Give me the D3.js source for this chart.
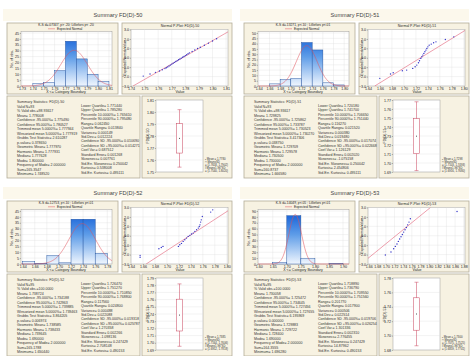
<!DOCTYPE html>
<html><head><meta charset="utf-8">
<script src="https://cdn.jsdelivr.net/npm/d3@7"></script>
<style>body{margin:0;background:#fff}svg{display:block}text{font-family:"Liberation Sans",Arial,sans-serif}</style>
</head><body>
<svg id="c" width="474" height="356"></svg>
<script>
// ---------------- DATA ----------------
const panelNames = ["FD(D)-50","FD(D)-51","FD(D)-52","FD(D)-53"];
const ksLabels = ["K-S d=.07347, p> .20; Lilliefors p< .20","K-S d=.13271, p<.10 ; Lilliefors p<.01","K-S d=.12753, p<.10 ; Lilliefors p<.01","K-S d=.14049, p<.05 ; Lilliefors p<.01"];

// histograms: bin edges, counts, tick labels, axis extents
const hist50Edges = [1.74,1.75,1.76,1.77,1.78,1.79,1.80,1.81];
const hist50Counts = [2,3,13,38,23,10,4];
const hist50XTicks = [1.73,1.74,1.75,1.76,1.77,1.78,1.79,1.80,1.81];
const hist50XDomain = [1.7291,1.8128];
const hist50YTicks = [0,5,10,15,20,25,30,35,40,45];

const hist51Edges = [1.66,1.68,1.70,1.72,1.74,1.76,1.78,1.80];
const hist51Counts = [2,6,7,41,34,3,1];
const hist51XTicks = [1.64,1.66,1.68,1.70,1.72,1.74,1.76,1.78,1.80];
const hist51XDomain = [1.6385,1.809];
const hist51YTicks = [0,5,10,15,20,25,30,35,40,45,50];

const hist52Edges = [1.64,1.66,1.68,1.70,1.72,1.74,1.76,1.78];
const hist52Counts = [2,0.4,7,1,38,38,9];
const hist52XTicks = [1.64,1.66,1.68,1.70,1.72,1.74,1.76,1.78];
const hist52XDomain = [1.6372,1.7878];
const hist52YTicks = [0,5,10,15,20,25,30,35,40,45];

const hist53Edges = [1.65,1.70,1.75,1.80,1.85,1.90];
const hist53Counts = [3,82,9,0,1];
const hist53XTicks = [1.60,1.65,1.70,1.75,1.80,1.85,1.90];
const hist53XDomain = [1.5975,1.9213];
const hist53YTicks = [0,10,20,30,40,50,60,70,80,90];

// sample parameters (N, mean, sd) used for the expected-normal curve and the box plot
const sampleN = [93,93,95,95];
const sampleMean = [1.7780,1.7298,1.7385,1.7300];
const sampleSD = [0.01222,0.0195,0.0221,0.0225];

// normal P-plots: [value, expected normal]
const pplot50 = [[1.749,-1.95],[1.754,-1.72],[1.758,-1.55],[1.761,-1.4],[1.763,-1.28],[1.765,-1.15],[1.766,-1.06],[1.767,-0.97],[1.768,-0.88],[1.769,-0.78],[1.770,-0.68],[1.771,-0.58],[1.772,-0.49],[1.773,-0.40],[1.774,-0.31],[1.775,-0.22],[1.776,-0.13],[1.777,-0.04],[1.778,0.05],[1.779,0.14],[1.780,0.23],[1.781,0.32],[1.782,0.42],[1.783,0.52],[1.785,0.67],[1.787,0.82],[1.789,0.98],[1.791,1.12],[1.794,1.33],[1.797,1.55],[1.800,1.78],[1.803,2.02]];
const pplot51 = [[1.6597,-2.19],[1.6776,-1.73],[1.6821,-1.59],[1.6973,-1.38],[1.7046,-1.31],[1.7147,-1.13],[1.7187,-0.95],[1.7215,-0.78],[1.7243,-0.53],[1.7260,-0.32],[1.7282,-0.07],[1.7299,0.11],[1.7316,0.28],[1.7333,0.46],[1.7350,0.64],[1.7367,0.81],[1.7383,0.99],[1.7400,1.16],[1.7422,1.34],[1.7456,1.45],[1.7496,1.59],[1.7535,1.69],[1.7692,1.94],[1.7833,2.22]];
const pplot52 = [[1.6552,-2.08],[1.6552,-2.29],[1.6866,-1.38],[1.6906,-1.24],[1.6934,-1.13],[1.7192,-1.13],[1.7215,-0.95],[1.7243,-0.81],[1.7271,-0.60],[1.7299,-0.42],[1.7327,-0.25],[1.7355,-0.07],[1.7383,0.04],[1.7411,0.18],[1.7439,0.28],[1.7467,0.46],[1.7496,0.64],[1.7524,0.81],[1.7540,0.99],[1.7552,1.16],[1.7563,1.45],[1.7574,1.69],[1.7591,2.05],[1.7731,2.51],[1.7765,2.75]];
const pplot53 = [[1.6986,-2.05],[1.7117,-1.73],[1.7179,-1.38],[1.7218,-1.13],[1.7256,-0.88],[1.7287,-0.60],[1.7318,-0.35],[1.7349,-0.11],[1.7380,0.14],[1.7411,0.39],[1.7442,0.64],[1.7473,0.88],[1.7503,1.16],[1.7534,1.45],[1.7565,1.80],[1.8646,2.58]];
const pline50 = [[1.7415,-3],[1.8114,2.75]];
const pline51 = [[1.6512,-3],[1.802,2.9]];
const pline52 = [[1.6653,-3],[1.802,2.65]];
const pline53 = [[1.6585,-2.4],[1.803,3]];
const pplot50XTicks = [1.74,1.75,1.76,1.77,1.78,1.79,1.80,1.81];
const pplot51XTicks = [1.64,1.66,1.68,1.70,1.72,1.74,1.76,1.78,1.80];
const pplot52XTicks = [1.64,1.66,1.68,1.70,1.72,1.74,1.76,1.78,1.80];
const pplot53XTicks = [1.66,1.68,1.70,1.72,1.74,1.76,1.78,1.80,1.82,1.84,1.86,1.88];
const pplotXDomains = [[1.74,1.8114],[1.64,1.802],[1.64,1.802],[1.6585,1.883]];
const pplotYTicks = [-3,-2,-1,0,1,2,3];

// box plots: axis ticks
const box50YTicks = [1.75,1.76,1.77,1.78,1.79,1.80,1.81];
const box51YTicks = [1.69,1.70,1.71,1.72,1.73,1.74,1.75,1.76,1.77];
const box52YTicks = [1.69,1.70,1.71,1.72,1.73,1.74,1.75,1.76,1.77,1.78,1.79];
const box53YTicks = [1.68,1.70,1.72,1.74,1.76,1.78];

// summary statistics text
const stats50Left = ["Summary Statistics: FD(D)-50","Valid N=93","% Valid obs.=98.93617","Mean= 1.778008","Confidence -95.000%= 1.775490","Confidence 95.000%= 1.780527","Trimmed mean 5.0000%= 1.777944","Winsorized mean 5.0000%= 1.777919","Grubbs Test Statistic= 2.610287","p-value= 0.378650","Geometric Mean= 1.777970","Harmonic Mean= 1.777931","Median= 1.777628","Mode= 1.800000","Frequency of Mode= 2.000000","Sum=165.3547","Minimum= 1.748520"];
const stats50Right = ["Lower Quartile= 1.771440","Upper Quartile= 1.785280","Percentile 10.0000%= 1.765610","Percentile 90.0000%= 1.795480","Range= 0.062450","Quartile Range= 0.013840","Variance= 0.000149","Std.Dev.= 0.012224","Confidence SD -95.000%= 0.010690","Confidence SD +95.000%= 0.014271","Coef.Var.= 0.687512","Standard Error= 0.001268","Skewness= 0.007761","Std.Err. Skewness= 0.250042","Kurtosis= 0.538008","Std.Err. Kurtosis= 0.495111"];
const stats51Left = ["Summary Statistics: FD(D)-51","Valid N=93","% Valid obs.=98.93617","Mean= 1.729825","Confidence -95.000%= 1.725862","Confidence 95.000%= 1.733787","Trimmed mean 5.0000%= 1.730523","Winsorized mean 5.0000%= 1.730270","Grubbs Test Statistic= 3.417306","p-value= 0.038750","Geometric Mean= 1.729709","Harmonic Mean= 1.729578","Median= 1.730500","Mode= 1.730000","Frequency of Mode= 2.000000","Sum=160.8737","Minimum= 1.666580"];
const stats51Right = ["Lower Quartile= 1.720180","Upper Quartile= 1.741700","Percentile 10.0000%= 1.706650","Percentile 90.0000%= 1.751440","Range= 0.116270","Quartile Range= 0.021520","Variance= 0.000380","Std.Dev.= 0.019480","Confidence SD -95.000%= 0.017074","Confidence SD +95.000%= 0.022668","Coef.Var.= 1.126129","Standard Error= 0.002020","Skewness= -1.075158","Std.Err. Skewness= 0.250042","Kurtosis= 2.454806","Std.Err. Kurtosis= 0.495111"];
const stats52Left = ["Summary Statistics: FD(D)-52","Valid N=95","% Valid obs.=100.0000","Mean= 1.738724","Confidence -95.000%= 1.734188","Confidence 95.000%= 1.742963","Trimmed mean 5.0000%= 1.739885","Winsorized mean 5.0000%= 1.739463","Grubbs Test Statistic= 3.864205","p-value= 0.006974","Geometric Mean= 1.738585","Harmonic Mean= 1.738433","Median= 1.739645","Mode= 1.690000","Frequency of Mode= 2.000000","Sum=165.1788","Minimum= 1.650440"];
const stats52Right = ["Lower Quartile= 1.726470","Upper Quartile= 1.751270","Percentile 10.0000%= 1.710850","Percentile 90.0000%= 1.768800","Range= 0.117560","Quartile Range= 0.024800","Variance= 0.000488","Std.Dev.= 0.022088","Confidence SD -95.000%= 0.019318","Confidence SD +95.000%= 0.025787","Coef.Var.= 1.270358","Standard Error= 0.002266","Skewness= -1.098136","Std.Err. Skewness= 0.247429","Kurtosis= 2.708148","Std.Err. Kurtosis= 0.490153"];
const stats53Left = ["Summary Statistics: FD(D)-53","Valid N=95","% Valid obs.=100.0000","Mean= 1.730058","Confidence -95.000%= 1.725472","Confidence 95.000%= 1.734645","Trimmed mean 5.0000%= 1.727456","Winsorized mean 5.0000%= 1.727655","Grubbs Test Statistic= 6.195969","p-value= 0.000000","Geometric Mean= 1.729883","Harmonic Mean= 1.729722","Median= 1.728400","Mode= 1.690000","Frequency of Mode= 2.000000","Sum=164.3555","Minimum= 1.696280"];
const stats53Right = ["Lower Quartile= 1.718890","Upper Quartile= 1.736790","Percentile 10.0000%= 1.709550","Percentile 90.0000%= 1.751560","Range= 0.201770","Quartile Range= 0.017900","Variance= 0.000506","Std.Dev.= 0.022514","Confidence SD -95.000%= 0.019706","Confidence SD +95.000%= 0.026254","Coef.Var.= 1.301336","Standard Error= 0.002310","Skewness= 2.776455","Std.Err. Skewness= 0.247429","Kurtosis= 14.87962","Std.Err. Kurtosis= 0.490153"];

// ---------------- DRAWING ----------------
const svg = d3.select("#c");
const FONT = '"Liberation Sans",Arial,sans-serif';
const CREAM = "#f7f2e2", STRIP = "#fcf8ec", BORDER = "#b3ad98";

const defs = svg.append("defs");
const grad = defs.append("linearGradient").attr("id","barGrad")
  .attr("gradientUnits","userSpaceOnUse").attr("x1",0).attr("x2",0).attr("y1",33).attr("y2",86);
grad.append("stop").attr("offset","0%").attr("stop-color","#0d5ad6");
grad.append("stop").attr("offset","45%").attr("stop-color","#5f9de8");
grad.append("stop").attr("offset","100%").attr("stop-color","#f0f6fe");

const quads = [
  {ox:0,oy:0, hist:[hist50Edges,hist50Counts,hist50XTicks,hist50XDomain,hist50YTicks], bw:0.01, pp:[pplot50,pline50,pplot50XTicks], box:box50YTicks, sl:stats50Left, sr:stats50Right},
  {ox:237,oy:0, hist:[hist51Edges,hist51Counts,hist51XTicks,hist51XDomain,hist51YTicks], bw:0.02, pp:[pplot51,pline51,pplot51XTicks], box:box51YTicks, sl:stats51Left, sr:stats51Right},
  {ox:0,oy:178, hist:[hist52Edges,hist52Counts,hist52XTicks,hist52XDomain,hist52YTicks], bw:0.02, pp:[pplot52,pline52,pplot52XTicks], box:box52YTicks, sl:stats52Left, sr:stats52Right},
  {ox:237,oy:178, hist:[hist53Edges,hist53Counts,hist53XTicks,hist53XDomain,hist53YTicks], bw:0.05, pp:[pplot53,pline53,pplot53XTicks], box:box53YTicks, sl:stats53Left, sr:stats53Right}
];

function styleAxis(sel){
  sel.attr("font-size",3.6).attr("font-family",FONT);
  sel.select(".domain").remove();
  sel.selectAll(".tick line").attr("stroke","#444").attr("stroke-width",0.35);
  sel.selectAll(".tick text").attr("fill","#222");
}
function txt(g,x,y,s,size,anchor,fill){
  return g.append("text").attr("x",x).attr("y",y).attr("font-size",size)
    .attr("text-anchor",anchor||"start").attr("fill",fill||"#222").text(s);
}
function frame(g,x,y,w,h){
  g.append("rect").attr("x",x).attr("y",y).attr("width",w).attr("height",h)
    .attr("fill",CREAM).attr("stroke",BORDER).attr("stroke-width",0.8);
}
const f2 = d3.format(".2f");

quads.forEach((q,i)=>{
  const g = svg.append("g").attr("transform",`translate(${q.ox},${q.oy})`);
  // title strip
  g.append("rect").attr("x",3).attr("y",9).attr("width",229).attr("height",12).attr("fill",STRIP);
  txt(g,118,17.4,"Summary "+panelNames[i],5.6,"middle","#444");

  // ---------- histogram ----------
  const [edges,counts,xt,xd,yt] = q.hist;
  frame(g,7,23,111,71);
  const hx = d3.scaleLinear().domain(xd).range([21,112]);
  const hy = d3.scaleLinear().domain([0,yt[yt.length-1]]).range([86,33]);
  g.append("rect").attr("x",21).attr("y",31.5).attr("width",91).attr("height",54.5).attr("fill","#fff").attr("stroke","#888").attr("stroke-width",0.4);
  const hg = g.append("g");
  hg.selectAll(".gy").data(yt).join("line").attr("x1",21).attr("x2",112).attr("y1",d=>hy(d)).attr("y2",d=>hy(d)).attr("stroke","#ddd").attr("stroke-width",0.35);
  hg.selectAll(".gx").data(xt).join("line").attr("y1",31.5).attr("y2",86).attr("x1",d=>hx(d)).attr("x2",d=>hx(d)).attr("stroke","#ddd").attr("stroke-width",0.35);
  const bins = counts.map((c,k)=>({x0:edges[k],x1:edges[k+1],c}));
  g.selectAll(".bar").data(bins).join("rect")
    .attr("x",d=>hx(d.x0)).attr("width",d=>hx(d.x1)-hx(d.x0))
    .attr("y",d=>hy(d.c)).attr("height",d=>hy(0)-hy(d.c))
    .attr("fill","url(#barGrad)").attr("stroke","#1d4f9e").attr("stroke-width",0.45);
  // expected normal curve from N, mean, sd
  const m = sampleMean[i], s = sampleSD[i], N = sampleN[i];
  const xs = d3.range(0,201).map(k=>xd[0]+(xd[1]-xd[0])*k/200);
  const dens = x=>N*q.bw/(s*Math.sqrt(2*Math.PI))*Math.exp(-0.5*((x-m)/s)**2);
  g.append("path").attr("d",d3.line().x(d=>hx(d)).y(d=>hy(Math.min(dens(d),yt[yt.length-1]*1.03)))(xs))
    .attr("fill","none").attr("stroke","#e0505a").attr("stroke-width",0.55);
  g.append("g").attr("transform","translate(21,0)").call(d3.axisLeft(hy).tickValues(yt).tickSize(1.2).tickPadding(0.8)).call(styleAxis);
  g.append("g").attr("transform","translate(0,86)").call(d3.axisBottom(hx).tickValues(xt).tickSize(1.2).tickPadding(0.6).tickFormat(f2)).call(styleAxis);
  txt(g,66,26.4,ksLabels[i],3.3,"middle");
  g.append("line").attr("x1",48).attr("x2",55).attr("y1",28.8).attr("y2",28.8).attr("stroke","#e0505a").attr("stroke-width",0.5);
  txt(g,57,30,"Expected Normal",3.3,"start");
  txt(g,0,0,"No. of obs.",3.6,"middle").attr("transform","translate(12.5,59) rotate(-90)");
  txt(g,66,93,"X <= Category Boundary",3.6,"middle");

  // ---------- normal P-plot ----------
  const [pts,pl,pxt] = q.pp;
  frame(g,122,23,110,71);
  const px = d3.scaleLinear().domain(pplotXDomains[i]).range([131,228]);
  const py = d3.scaleLinear().domain([-3,3]).range([86,29.5]);
  g.append("rect").attr("x",131).attr("y",29.5).attr("width",97).attr("height",56.5).attr("fill","#fff").attr("stroke","#888").attr("stroke-width",0.4);
  g.selectAll(".pgy").data(pplotYTicks).join("line").attr("x1",131).attr("x2",228).attr("y1",d=>py(d)).attr("y2",d=>py(d)).attr("stroke","#ddd").attr("stroke-width",0.35);
  g.selectAll(".pgx").data(pxt).join("line").attr("y1",29.5).attr("y2",86).attr("x1",d=>px(d)).attr("x2",d=>px(d)).attr("stroke","#ddd").attr("stroke-width",0.35);
  const clipId = "pc"+i;
  g.append("clipPath").attr("id",clipId).append("rect").attr("x",131).attr("y",29.5).attr("width",97).attr("height",56.5);
  g.append("line").attr("clip-path",`url(#${clipId})`)
    .attr("x1",px(pl[0][0])).attr("y1",py(pl[0][1])).attr("x2",px(pl[1][0])).attr("y2",py(pl[1][1]))
    .attr("stroke","#e0506a").attr("stroke-width",0.55);
  g.selectAll(".pt").data(pts).join("circle").attr("cx",d=>px(d[0])).attr("cy",d=>py(d[1])).attr("r",0.7)
    .attr("fill","#3535c8");
  g.append("g").attr("transform","translate(131,0)").call(d3.axisLeft(py).tickValues(pplotYTicks).tickSize(1.2).tickPadding(0.8)).call(styleAxis);
  g.append("g").attr("transform","translate(0,86)").call(d3.axisBottom(px).tickValues(pxt).tickSize(1.2).tickPadding(0.6).tickFormat(f2)).call(styleAxis);
  txt(g,180,27.3,"Normal P-Plot: "+panelNames[i],3.5,"middle");
  txt(g,0,0,"Expected Normal Value",3.4,"middle").attr("transform","translate(126,58) rotate(-90)");
  txt(g,180,93,"Value",3.6,"middle");

  // ---------- summary statistics ----------
  frame(g,7,96,133,82);
  q.sl.forEach((s2,k)=>txt(g,17,103+k*4.5,s2,3.55,"start","#333"));
  q.sr.forEach((s2,k)=>txt(g,81,106.8+k*4.45,s2,3.55,"start","#333"));

  // ---------- box plot ----------
  frame(g,142,96,90,82);
  const bt = q.box;
  const by = d3.scaleLinear().domain([bt[0],bt[bt.length-1]]).range([172,100]);
  g.append("rect").attr("x",156).attr("y",100).attr("width",47).attr("height",72).attr("fill","#fff").attr("stroke","#888").attr("stroke-width",0.4);
  g.selectAll(".bgy").data(bt).join("line").attr("x1",156).attr("x2",203).attr("y1",d=>by(d)).attr("y2",d=>by(d)).attr("stroke","#ddd").attr("stroke-width",0.35);
  const cx = 179.5, col = "#c8405a";
  g.append("line").attr("x1",cx).attr("x2",cx).attr("y1",by(m+1.96*s)).attr("y2",by(m-1.96*s)).attr("stroke",col).attr("stroke-width",0.5);
  [m+1.96*s,m-1.96*s].forEach(v=>g.append("line").attr("x1",cx-2).attr("x2",cx+2).attr("y1",by(v)).attr("y2",by(v)).attr("stroke",col).attr("stroke-width",0.5));
  g.append("rect").attr("x",cx-3).attr("width",6).attr("y",by(m+s)).attr("height",by(m-s)-by(m+s))
    .attr("fill","#fff").attr("stroke",col).attr("stroke-width",0.5);
  g.append("rect").attr("x",cx-0.5).attr("y",by(m)-0.5).attr("width",1).attr("height",1).attr("fill","#555");
  g.append("g").attr("transform","translate(156,0)").call(d3.axisLeft(by).tickValues(bt).tickSize(1.2).tickPadding(0.8).tickFormat(f2)).call(styleAxis);
  txt(g,0,0,panelNames[i],3.6,"middle").attr("transform","translate(148.5,136) rotate(-90)");
  const f4 = d3.format(".4f");
  const leg = ["\u25AA Mean = "+f4(m),"\u25A1 Mean\u00B1SD","   = ("+f4(m-s)+", "+f4(m+s)+")","I Mean\u00B11.96*SD","   = ("+f4(m-1.96*s)+", "+f4(m+1.96*s)+")"];
  leg.forEach((l,k)=>txt(g,205,160+k*3.1,l,2.8,"start","#333"));
});
</script>
</body></html>
